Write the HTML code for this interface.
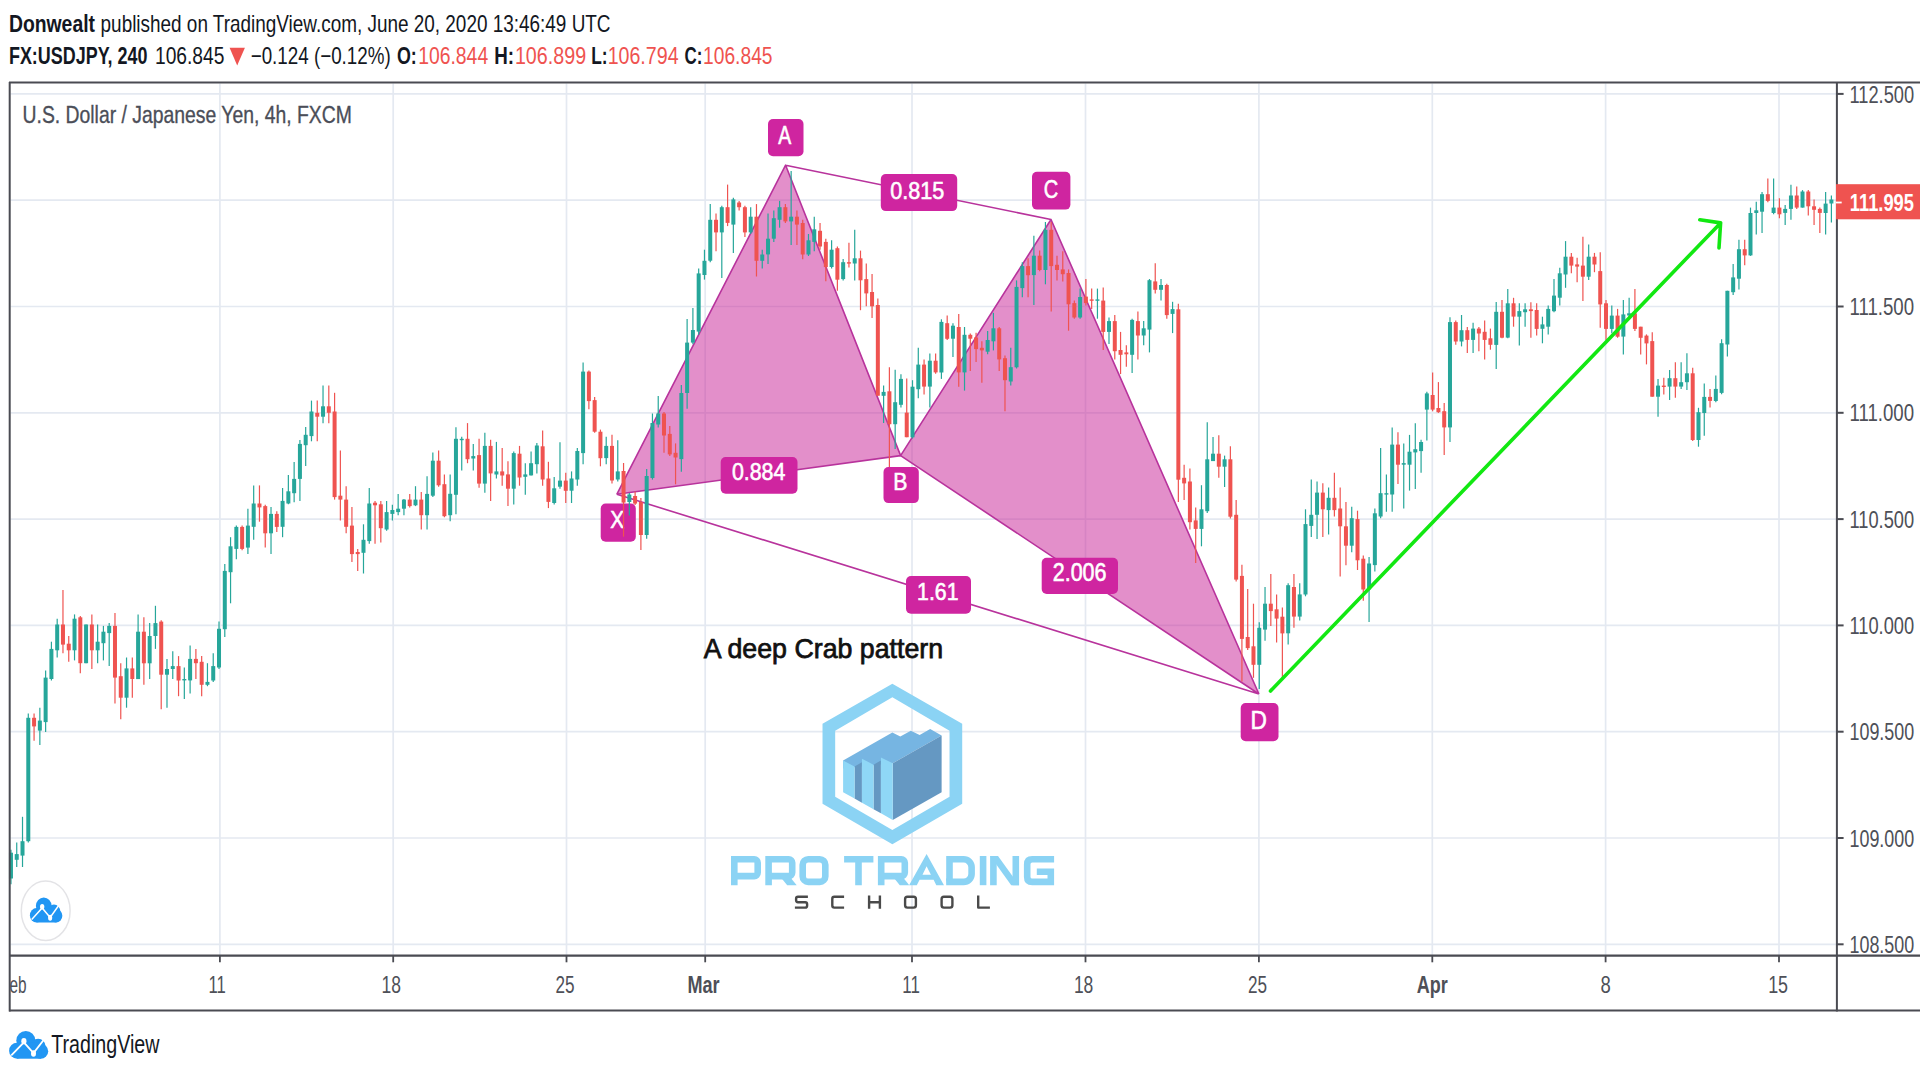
<!DOCTYPE html>
<html><head><meta charset="utf-8"><title>USDJPY chart</title>
<style>html,body{margin:0;padding:0;background:#fff;width:1920px;height:1080px;overflow:hidden}svg{display:block}</style>
</head><body>
<svg width="1920" height="1080" viewBox="0 0 1920 1080">
<rect width="1920" height="1080" fill="#ffffff"/>
<path d="M10.5 93.9H1836" stroke="#e4e9f1" stroke-width="1.7"/><path d="M10.5 200.2H1836" stroke="#e4e9f1" stroke-width="1.7"/><path d="M10.5 306.5H1836" stroke="#e4e9f1" stroke-width="1.7"/><path d="M10.5 412.8H1836" stroke="#e4e9f1" stroke-width="1.7"/><path d="M10.5 519.1H1836" stroke="#e4e9f1" stroke-width="1.7"/><path d="M10.5 625.4H1836" stroke="#e4e9f1" stroke-width="1.7"/><path d="M10.5 731.7H1836" stroke="#e4e9f1" stroke-width="1.7"/><path d="M10.5 838.0H1836" stroke="#e4e9f1" stroke-width="1.7"/><path d="M10.5 944.3H1836" stroke="#e4e9f1" stroke-width="1.7"/><path d="M219.9 83.5V955" stroke="#e4e9f1" stroke-width="1.7"/><path d="M393.2 83.5V955" stroke="#e4e9f1" stroke-width="1.7"/><path d="M566.5 83.5V955" stroke="#e4e9f1" stroke-width="1.7"/><path d="M705.2 83.5V955" stroke="#e4e9f1" stroke-width="1.7"/><path d="M912.0 83.5V955" stroke="#e4e9f1" stroke-width="1.7"/><path d="M1085.5 83.5V955" stroke="#e4e9f1" stroke-width="1.7"/><path d="M1258.9 83.5V955" stroke="#e4e9f1" stroke-width="1.7"/><path d="M1432.3 83.5V955" stroke="#e4e9f1" stroke-width="1.7"/><path d="M1605.6 83.5V955" stroke="#e4e9f1" stroke-width="1.7"/><path d="M1779.0 83.5V955" stroke="#e4e9f1" stroke-width="1.7"/>
<polygon points="616.8,494.3 785.6,165.2 900.6,455.6" fill="rgba(199,31,149,0.5)"/><polygon points="900.6,455.6 1051,219.5 1258.9,694" fill="rgba(199,31,149,0.5)"/>
<path d="M616.8,494.3L785.6,165.2L900.6,455.6L1051,219.5L1258.9,694M616.8,494.3L900.6,455.6M785.6,165.2L1051,219.5M616.8,494.3L1258.9,694M900.6,455.6L1258.9,694" stroke="#b8339c" stroke-width="1.6" fill="none" stroke-linejoin="round"/>
<rect x="768" y="119" width="35.5" height="37.2" rx="5" fill="#cf25a0"/><rect x="880.8" y="174" width="76.4" height="37.1" rx="5" fill="#cf25a0"/><rect x="1032" y="171.8" width="38.4" height="37.8" rx="5" fill="#cf25a0"/><rect x="720.7" y="457" width="76.8" height="36.8" rx="5" fill="#cf25a0"/><rect x="883.5" y="467" width="35.3" height="36.1" rx="5" fill="#cf25a0"/><rect x="600.7" y="503.6" width="35.1" height="38.2" rx="5" fill="#cf25a0"/><rect x="906" y="576" width="65.0" height="37.8" rx="5" fill="#cf25a0"/><rect x="1041.7" y="557.7" width="76.3" height="36.3" rx="5" fill="#cf25a0"/><rect x="1240.7" y="703" width="37.8" height="38.3" rx="5" fill="#cf25a0"/>
<text x="778.30" y="144.40" font-family="Liberation Sans, sans-serif" font-size="24.93" font-weight="normal" fill="#ffffff" textLength="12.94" lengthAdjust="spacingAndGlyphs" stroke="#fff" stroke-width="0.6">A</text><text x="890.14" y="199.40" font-family="Liberation Sans, sans-serif" font-size="24.57" font-weight="normal" fill="#ffffff" textLength="54.08" lengthAdjust="spacingAndGlyphs" stroke="#fff" stroke-width="0.6">0.815</text><text x="1043.80" y="197.80" font-family="Liberation Sans, sans-serif" font-size="24.86" font-weight="normal" fill="#ffffff" textLength="14.44" lengthAdjust="spacingAndGlyphs" stroke="#fff" stroke-width="0.6">C</text><text x="731.89" y="480.25" font-family="Liberation Sans, sans-serif" font-size="24.50" font-weight="normal" fill="#ffffff" textLength="53.55" lengthAdjust="spacingAndGlyphs" stroke="#fff" stroke-width="0.6">0.884</text><text x="893.30" y="490.00" font-family="Liberation Sans, sans-serif" font-size="23.55" font-weight="normal" fill="#ffffff" textLength="14.16" lengthAdjust="spacingAndGlyphs" stroke="#fff" stroke-width="0.6">B</text><text x="610.28" y="527.60" font-family="Liberation Sans, sans-serif" font-size="23.62" font-weight="normal" fill="#ffffff" textLength="13.89" lengthAdjust="spacingAndGlyphs" stroke="#fff" stroke-width="0.6">X</text><text x="917.05" y="599.70" font-family="Liberation Sans, sans-serif" font-size="24.14" font-weight="normal" fill="#ffffff" textLength="41.44" lengthAdjust="spacingAndGlyphs" stroke="#fff" stroke-width="0.6">1.61</text><text x="1052.73" y="581.00" font-family="Liberation Sans, sans-serif" font-size="25.14" font-weight="normal" fill="#ffffff" textLength="53.79" lengthAdjust="spacingAndGlyphs" stroke="#fff" stroke-width="0.6">2.006</text><text x="1250.58" y="729.00" font-family="Liberation Sans, sans-serif" font-size="25.51" font-weight="normal" fill="#ffffff" textLength="16.40" lengthAdjust="spacingAndGlyphs" stroke="#fff" stroke-width="0.6">D</text>
<path d="M10.96 849.8V884.2" stroke="#26a69a" stroke-width="1.2"/><rect x="8.96" y="852.7" width="4.0" height="25.8" fill="#26a69a"/>
<path d="M16.73 842.6V867.0" stroke="#26a69a" stroke-width="1.2"/><rect x="14.73" y="854.1" width="4.0" height="5.7" fill="#26a69a"/>
<path d="M22.51 816.8V867.0" stroke="#26a69a" stroke-width="1.2"/><rect x="20.51" y="841.2" width="4.0" height="14.4" fill="#26a69a"/>
<path d="M28.29 713.5V842.6" stroke="#26a69a" stroke-width="1.2"/><rect x="26.29" y="717.8" width="4.0" height="123.4" fill="#26a69a"/>
<path d="M34.07 713.5V740.7" stroke="#ef5350" stroke-width="1.2"/><rect x="32.07" y="717.8" width="4.0" height="8.6" fill="#ef5350"/>
<path d="M39.85 707.7V745.0" stroke="#26a69a" stroke-width="1.2"/><rect x="37.85" y="720.6" width="4.0" height="10.0" fill="#26a69a"/>
<path d="M45.63 670.4V732.1" stroke="#26a69a" stroke-width="1.2"/><rect x="43.63" y="677.6" width="4.0" height="44.5" fill="#26a69a"/>
<path d="M51.41 641.7V680.5" stroke="#26a69a" stroke-width="1.2"/><rect x="49.41" y="648.9" width="4.0" height="30.1" fill="#26a69a"/>
<path d="M57.19 618.7V657.5" stroke="#26a69a" stroke-width="1.2"/><rect x="55.19" y="624.5" width="4.0" height="25.8" fill="#26a69a"/>
<path d="M62.97 590.0V653.2" stroke="#ef5350" stroke-width="1.2"/><rect x="60.97" y="624.5" width="4.0" height="20.1" fill="#ef5350"/>
<path d="M68.75 636.0V661.8" stroke="#ef5350" stroke-width="1.2"/><rect x="66.75" y="643.7" width="4.0" height="6.6" fill="#ef5350"/>
<path d="M74.53 614.4V660.4" stroke="#26a69a" stroke-width="1.2"/><rect x="72.53" y="618.7" width="4.0" height="31.6" fill="#26a69a"/>
<path d="M80.31 615.9V673.3" stroke="#ef5350" stroke-width="1.2"/><rect x="78.31" y="617.3" width="4.0" height="45.9" fill="#ef5350"/>
<path d="M86.08 624.5V663.2" stroke="#26a69a" stroke-width="1.2"/><rect x="84.08" y="624.5" width="4.0" height="38.7" fill="#26a69a"/>
<path d="M91.86 614.4V669.0" stroke="#ef5350" stroke-width="1.2"/><rect x="89.86" y="624.5" width="4.0" height="25.8" fill="#ef5350"/>
<path d="M97.64 624.5V663.2" stroke="#26a69a" stroke-width="1.2"/><rect x="95.64" y="641.7" width="4.0" height="8.6" fill="#26a69a"/>
<path d="M103.42 625.9V660.4" stroke="#26a69a" stroke-width="1.2"/><rect x="101.42" y="631.7" width="4.0" height="11.5" fill="#26a69a"/>
<path d="M109.20 623.1V666.1" stroke="#26a69a" stroke-width="1.2"/><rect x="107.20" y="625.9" width="4.0" height="7.2" fill="#26a69a"/>
<path d="M114.98 613.0V703.4" stroke="#ef5350" stroke-width="1.2"/><rect x="112.98" y="625.9" width="4.0" height="51.7" fill="#ef5350"/>
<path d="M120.76 663.2V719.2" stroke="#ef5350" stroke-width="1.2"/><rect x="118.76" y="676.2" width="4.0" height="21.5" fill="#ef5350"/>
<path d="M126.54 657.5V707.7" stroke="#26a69a" stroke-width="1.2"/><rect x="124.54" y="668.4" width="4.0" height="29.3" fill="#26a69a"/>
<path d="M132.32 657.5V697.7" stroke="#ef5350" stroke-width="1.2"/><rect x="130.32" y="668.4" width="4.0" height="10.6" fill="#ef5350"/>
<path d="M138.10 614.4V679.0" stroke="#26a69a" stroke-width="1.2"/><rect x="136.10" y="631.7" width="4.0" height="47.4" fill="#26a69a"/>
<path d="M143.88 617.3V684.8" stroke="#ef5350" stroke-width="1.2"/><rect x="141.88" y="631.7" width="4.0" height="31.6" fill="#ef5350"/>
<path d="M149.66 623.1V679.0" stroke="#26a69a" stroke-width="1.2"/><rect x="147.66" y="636.0" width="4.0" height="27.3" fill="#26a69a"/>
<path d="M155.44 605.8V648.9" stroke="#26a69a" stroke-width="1.2"/><rect x="153.44" y="623.1" width="4.0" height="12.9" fill="#26a69a"/>
<path d="M161.21 620.2V709.2" stroke="#ef5350" stroke-width="1.2"/><rect x="159.21" y="621.6" width="4.0" height="53.1" fill="#ef5350"/>
<path d="M166.99 658.9V707.7" stroke="#26a69a" stroke-width="1.2"/><rect x="164.99" y="669.0" width="4.0" height="5.7" fill="#26a69a"/>
<path d="M172.77 651.2V679.0" stroke="#26a69a" stroke-width="1.2"/><rect x="170.77" y="666.1" width="4.0" height="2.9" fill="#26a69a"/>
<path d="M178.55 656.1V696.2" stroke="#ef5350" stroke-width="1.2"/><rect x="176.55" y="666.1" width="4.0" height="14.4" fill="#ef5350"/>
<path d="M184.33 667.5V699.1" stroke="#26a69a" stroke-width="1.2"/><rect x="182.33" y="679.0" width="4.0" height="1.4" fill="#26a69a"/>
<path d="M190.11 645.4V693.4" stroke="#26a69a" stroke-width="1.2"/><rect x="188.11" y="658.9" width="4.0" height="21.5" fill="#26a69a"/>
<path d="M195.89 648.9V679.0" stroke="#ef5350" stroke-width="1.2"/><rect x="193.89" y="658.9" width="4.0" height="4.3" fill="#ef5350"/>
<path d="M201.67 656.1V696.2" stroke="#ef5350" stroke-width="1.2"/><rect x="199.67" y="661.8" width="4.0" height="23.0" fill="#ef5350"/>
<path d="M207.45 663.2V686.2" stroke="#26a69a" stroke-width="1.2"/><rect x="205.45" y="681.9" width="4.0" height="2.9" fill="#26a69a"/>
<path d="M213.23 653.2V681.9" stroke="#26a69a" stroke-width="1.2"/><rect x="211.23" y="666.1" width="4.0" height="14.4" fill="#26a69a"/>
<path d="M219.01 621.6V669.0" stroke="#26a69a" stroke-width="1.2"/><rect x="217.01" y="628.8" width="4.0" height="38.7" fill="#26a69a"/>
<path d="M224.79 563.9V637.0" stroke="#26a69a" stroke-width="1.2"/><rect x="222.79" y="570.9" width="4.0" height="58.3" fill="#26a69a"/>
<path d="M230.56 537.2V603.3" stroke="#26a69a" stroke-width="1.2"/><rect x="228.56" y="546.3" width="4.0" height="25.9" fill="#26a69a"/>
<path d="M236.34 525.6V559.3" stroke="#26a69a" stroke-width="1.2"/><rect x="234.34" y="526.9" width="4.0" height="22.0" fill="#26a69a"/>
<path d="M242.12 525.6V550.2" stroke="#ef5350" stroke-width="1.2"/><rect x="240.12" y="526.9" width="4.0" height="22.0" fill="#ef5350"/>
<path d="M247.90 508.7V554.1" stroke="#26a69a" stroke-width="1.2"/><rect x="245.90" y="525.6" width="4.0" height="22.0" fill="#26a69a"/>
<path d="M253.68 485.4V539.8" stroke="#26a69a" stroke-width="1.2"/><rect x="251.68" y="503.5" width="4.0" height="23.3" fill="#26a69a"/>
<path d="M259.46 485.4V521.7" stroke="#ef5350" stroke-width="1.2"/><rect x="257.46" y="503.5" width="4.0" height="3.9" fill="#ef5350"/>
<path d="M265.24 504.8V547.6" stroke="#ef5350" stroke-width="1.2"/><rect x="263.24" y="506.1" width="4.0" height="27.2" fill="#ef5350"/>
<path d="M271.02 506.9V554.1" stroke="#26a69a" stroke-width="1.2"/><rect x="269.02" y="513.9" width="4.0" height="19.4" fill="#26a69a"/>
<path d="M276.80 511.3V532.0" stroke="#ef5350" stroke-width="1.2"/><rect x="274.80" y="513.9" width="4.0" height="13.0" fill="#ef5350"/>
<path d="M282.58 488.0V537.2" stroke="#26a69a" stroke-width="1.2"/><rect x="280.58" y="500.9" width="4.0" height="25.9" fill="#26a69a"/>
<path d="M288.36 475.0V504.3" stroke="#26a69a" stroke-width="1.2"/><rect x="286.36" y="491.3" width="4.0" height="12.2" fill="#26a69a"/>
<path d="M294.14 462.0V502.2" stroke="#26a69a" stroke-width="1.2"/><rect x="292.14" y="478.9" width="4.0" height="14.3" fill="#26a69a"/>
<path d="M299.92 440.0V500.9" stroke="#26a69a" stroke-width="1.2"/><rect x="297.92" y="443.9" width="4.0" height="35.0" fill="#26a69a"/>
<path d="M305.69 427.0V465.9" stroke="#26a69a" stroke-width="1.2"/><rect x="303.69" y="434.8" width="4.0" height="10.4" fill="#26a69a"/>
<path d="M311.47 400.6V441.3" stroke="#26a69a" stroke-width="1.2"/><rect x="309.47" y="411.5" width="4.0" height="24.6" fill="#26a69a"/>
<path d="M317.25 400.6V441.3" stroke="#ef5350" stroke-width="1.2"/><rect x="315.25" y="412.8" width="4.0" height="3.9" fill="#ef5350"/>
<path d="M323.03 385.6V423.2" stroke="#26a69a" stroke-width="1.2"/><rect x="321.03" y="406.3" width="4.0" height="10.4" fill="#26a69a"/>
<path d="M328.81 385.6V423.2" stroke="#ef5350" stroke-width="1.2"/><rect x="326.81" y="406.3" width="4.0" height="6.5" fill="#ef5350"/>
<path d="M334.59 392.8V499.6" stroke="#ef5350" stroke-width="1.2"/><rect x="332.59" y="411.5" width="4.0" height="85.6" fill="#ef5350"/>
<path d="M340.37 450.4V520.4" stroke="#ef5350" stroke-width="1.2"/><rect x="338.37" y="495.7" width="4.0" height="3.9" fill="#ef5350"/>
<path d="M346.15 486.2V533.3" stroke="#ef5350" stroke-width="1.2"/><rect x="344.15" y="499.6" width="4.0" height="27.2" fill="#ef5350"/>
<path d="M351.93 506.9V561.9" stroke="#ef5350" stroke-width="1.2"/><rect x="349.93" y="525.6" width="4.0" height="28.5" fill="#ef5350"/>
<path d="M357.71 548.9V570.9" stroke="#ef5350" stroke-width="1.2"/><rect x="355.71" y="552.0" width="4.0" height="2.1" fill="#ef5350"/>
<path d="M363.49 524.3V573.5" stroke="#26a69a" stroke-width="1.2"/><rect x="361.49" y="539.8" width="4.0" height="13.0" fill="#26a69a"/>
<path d="M369.27 488.0V543.7" stroke="#26a69a" stroke-width="1.2"/><rect x="367.27" y="503.5" width="4.0" height="37.6" fill="#26a69a"/>
<path d="M375.04 500.9V543.7" stroke="#ef5350" stroke-width="1.2"/><rect x="373.04" y="502.7" width="4.0" height="2.6" fill="#ef5350"/>
<path d="M380.82 500.9V542.4" stroke="#ef5350" stroke-width="1.2"/><rect x="378.82" y="504.3" width="4.0" height="23.9" fill="#ef5350"/>
<path d="M386.60 500.9V530.7" stroke="#26a69a" stroke-width="1.2"/><rect x="384.60" y="512.1" width="4.0" height="17.4" fill="#26a69a"/>
<path d="M392.38 504.8V520.4" stroke="#26a69a" stroke-width="1.2"/><rect x="390.38" y="510.0" width="4.0" height="3.9" fill="#26a69a"/>
<path d="M398.16 493.9V515.2" stroke="#26a69a" stroke-width="1.2"/><rect x="396.16" y="508.7" width="4.0" height="3.4" fill="#26a69a"/>
<path d="M403.94 499.1V515.2" stroke="#26a69a" stroke-width="1.2"/><rect x="401.94" y="499.6" width="4.0" height="9.1" fill="#26a69a"/>
<path d="M409.72 493.9V507.4" stroke="#ef5350" stroke-width="1.2"/><rect x="407.72" y="499.6" width="4.0" height="6.5" fill="#ef5350"/>
<path d="M415.50 486.2V506.1" stroke="#26a69a" stroke-width="1.2"/><rect x="413.50" y="499.6" width="4.0" height="5.7" fill="#26a69a"/>
<path d="M421.28 491.9V529.5" stroke="#ef5350" stroke-width="1.2"/><rect x="419.28" y="499.6" width="4.0" height="15.6" fill="#ef5350"/>
<path d="M427.06 476.3V529.5" stroke="#26a69a" stroke-width="1.2"/><rect x="425.06" y="493.9" width="4.0" height="21.3" fill="#26a69a"/>
<path d="M432.84 452.4V497.0" stroke="#26a69a" stroke-width="1.2"/><rect x="430.84" y="460.7" width="4.0" height="35.0" fill="#26a69a"/>
<path d="M438.62 450.4V486.7" stroke="#ef5350" stroke-width="1.2"/><rect x="436.62" y="460.7" width="4.0" height="24.6" fill="#ef5350"/>
<path d="M444.39 474.4V517.2" stroke="#ef5350" stroke-width="1.2"/><rect x="442.39" y="484.2" width="4.0" height="32.0" fill="#ef5350"/>
<path d="M450.17 474.4V521.3" stroke="#26a69a" stroke-width="1.2"/><rect x="448.17" y="493.8" width="4.0" height="21.4" fill="#26a69a"/>
<path d="M455.95 427.2V514.2" stroke="#26a69a" stroke-width="1.2"/><rect x="453.95" y="438.8" width="4.0" height="56.0" fill="#26a69a"/>
<path d="M461.73 436.8V470.4" stroke="#26a69a" stroke-width="1.2"/><rect x="459.73" y="438.8" width="4.0" height="1.4" fill="#26a69a"/>
<path d="M467.51 423.1V463.2" stroke="#ef5350" stroke-width="1.2"/><rect x="465.51" y="438.8" width="4.0" height="20.4" fill="#ef5350"/>
<path d="M473.29 443.9V470.4" stroke="#26a69a" stroke-width="1.2"/><rect x="471.29" y="456.1" width="4.0" height="2.4" fill="#26a69a"/>
<path d="M479.07 438.8V487.7" stroke="#ef5350" stroke-width="1.2"/><rect x="477.07" y="455.1" width="4.0" height="28.5" fill="#ef5350"/>
<path d="M484.85 432.7V492.8" stroke="#26a69a" stroke-width="1.2"/><rect x="482.85" y="445.9" width="4.0" height="37.7" fill="#26a69a"/>
<path d="M490.63 439.8V500.9" stroke="#ef5350" stroke-width="1.2"/><rect x="488.63" y="445.9" width="4.0" height="27.5" fill="#ef5350"/>
<path d="M496.41 441.9V478.5" stroke="#26a69a" stroke-width="1.2"/><rect x="494.41" y="471.4" width="4.0" height="3.1" fill="#26a69a"/>
<path d="M502.19 448.0V485.7" stroke="#ef5350" stroke-width="1.2"/><rect x="500.19" y="471.4" width="4.0" height="4.1" fill="#ef5350"/>
<path d="M507.97 461.2V506.0" stroke="#ef5350" stroke-width="1.2"/><rect x="505.97" y="474.4" width="4.0" height="14.3" fill="#ef5350"/>
<path d="M513.75 451.6V504.6" stroke="#26a69a" stroke-width="1.2"/><rect x="511.75" y="453.1" width="4.0" height="35.6" fill="#26a69a"/>
<path d="M519.52 445.9V485.7" stroke="#ef5350" stroke-width="1.2"/><rect x="517.52" y="453.7" width="4.0" height="23.8" fill="#ef5350"/>
<path d="M525.30 463.2V494.8" stroke="#26a69a" stroke-width="1.2"/><rect x="523.30" y="474.4" width="4.0" height="2.4" fill="#26a69a"/>
<path d="M531.08 451.6V475.5" stroke="#26a69a" stroke-width="1.2"/><rect x="529.08" y="463.2" width="4.0" height="12.2" fill="#26a69a"/>
<path d="M536.86 442.9V473.4" stroke="#26a69a" stroke-width="1.2"/><rect x="534.86" y="445.5" width="4.0" height="18.7" fill="#26a69a"/>
<path d="M542.64 430.6V485.7" stroke="#ef5350" stroke-width="1.2"/><rect x="540.64" y="446.3" width="4.0" height="33.2" fill="#ef5350"/>
<path d="M548.42 461.8V508.1" stroke="#ef5350" stroke-width="1.2"/><rect x="546.42" y="478.5" width="4.0" height="23.4" fill="#ef5350"/>
<path d="M554.20 476.9V504.6" stroke="#26a69a" stroke-width="1.2"/><rect x="552.20" y="488.3" width="4.0" height="14.7" fill="#26a69a"/>
<path d="M559.98 442.3V488.7" stroke="#26a69a" stroke-width="1.2"/><rect x="557.98" y="480.6" width="4.0" height="6.1" fill="#26a69a"/>
<path d="M565.76 472.8V503.0" stroke="#ef5350" stroke-width="1.2"/><rect x="563.76" y="480.6" width="4.0" height="10.2" fill="#ef5350"/>
<path d="M571.54 471.4V503.0" stroke="#26a69a" stroke-width="1.2"/><rect x="569.54" y="478.5" width="4.0" height="12.2" fill="#26a69a"/>
<path d="M577.32 448.0V485.7" stroke="#26a69a" stroke-width="1.2"/><rect x="575.32" y="451.0" width="4.0" height="28.5" fill="#26a69a"/>
<path d="M583.10 362.4V464.3" stroke="#26a69a" stroke-width="1.2"/><rect x="581.10" y="371.6" width="4.0" height="81.5" fill="#26a69a"/>
<path d="M588.88 370.6V409.3" stroke="#ef5350" stroke-width="1.2"/><rect x="586.88" y="371.6" width="4.0" height="29.5" fill="#ef5350"/>
<path d="M594.65 397.0V432.7" stroke="#ef5350" stroke-width="1.2"/><rect x="592.65" y="400.1" width="4.0" height="31.6" fill="#ef5350"/>
<path d="M600.43 429.6V466.3" stroke="#ef5350" stroke-width="1.2"/><rect x="598.43" y="431.7" width="4.0" height="26.5" fill="#ef5350"/>
<path d="M606.21 436.8V464.3" stroke="#26a69a" stroke-width="1.2"/><rect x="604.21" y="445.9" width="4.0" height="12.2" fill="#26a69a"/>
<path d="M611.99 434.7V483.6" stroke="#ef5350" stroke-width="1.2"/><rect x="609.99" y="445.9" width="4.0" height="34.6" fill="#ef5350"/>
<path d="M617.77 440.2V481.6" stroke="#26a69a" stroke-width="1.2"/><rect x="615.77" y="471.4" width="4.0" height="8.1" fill="#26a69a"/>
<path d="M623.55 463.0V536.7" stroke="#ef5350" stroke-width="1.2"/><rect x="621.55" y="471.0" width="4.0" height="31.6" fill="#ef5350"/>
<path d="M629.33 493.0V515.4" stroke="#26a69a" stroke-width="1.2"/><rect x="627.33" y="494.5" width="4.0" height="7.5" fill="#26a69a"/>
<path d="M635.11 491.4V505.0" stroke="#ef5350" stroke-width="1.2"/><rect x="633.11" y="496.0" width="4.0" height="7.6" fill="#ef5350"/>
<path d="M640.89 498.0V550.0" stroke="#ef5350" stroke-width="1.2"/><rect x="638.89" y="502.0" width="4.0" height="33.0" fill="#ef5350"/>
<path d="M646.67 469.0V538.8" stroke="#26a69a" stroke-width="1.2"/><rect x="644.67" y="476.0" width="4.0" height="59.0" fill="#26a69a"/>
<path d="M652.45 413.5V479.6" stroke="#26a69a" stroke-width="1.2"/><rect x="650.45" y="423.0" width="4.0" height="55.0" fill="#26a69a"/>
<path d="M658.23 396.1V427.6" stroke="#26a69a" stroke-width="1.2"/><rect x="656.23" y="413.5" width="4.0" height="11.0" fill="#26a69a"/>
<path d="M664.00 411.9V452.8" stroke="#ef5350" stroke-width="1.2"/><rect x="662.00" y="413.5" width="4.0" height="22.0" fill="#ef5350"/>
<path d="M669.78 426.1V456.0" stroke="#ef5350" stroke-width="1.2"/><rect x="667.78" y="433.9" width="4.0" height="20.5" fill="#ef5350"/>
<path d="M675.56 443.4V484.3" stroke="#ef5350" stroke-width="1.2"/><rect x="673.56" y="452.8" width="4.0" height="4.7" fill="#ef5350"/>
<path d="M681.34 385.1V471.7" stroke="#26a69a" stroke-width="1.2"/><rect x="679.34" y="393.0" width="4.0" height="66.1" fill="#26a69a"/>
<path d="M687.12 319.0V408.7" stroke="#26a69a" stroke-width="1.2"/><rect x="685.12" y="342.6" width="4.0" height="50.4" fill="#26a69a"/>
<path d="M692.90 308.0V344.2" stroke="#26a69a" stroke-width="1.2"/><rect x="690.90" y="330.0" width="4.0" height="12.6" fill="#26a69a"/>
<path d="M698.68 268.6V334.7" stroke="#26a69a" stroke-width="1.2"/><rect x="696.68" y="273.4" width="4.0" height="58.2" fill="#26a69a"/>
<path d="M704.46 249.7V279.6" stroke="#26a69a" stroke-width="1.2"/><rect x="702.46" y="260.8" width="4.0" height="14.2" fill="#26a69a"/>
<path d="M710.24 204.1V262.3" stroke="#26a69a" stroke-width="1.2"/><rect x="708.24" y="219.8" width="4.0" height="40.9" fill="#26a69a"/>
<path d="M716.02 213.5V251.3" stroke="#ef5350" stroke-width="1.2"/><rect x="714.02" y="219.8" width="4.0" height="12.6" fill="#ef5350"/>
<path d="M721.80 205.7V278.1" stroke="#26a69a" stroke-width="1.2"/><rect x="719.80" y="207.2" width="4.0" height="25.2" fill="#26a69a"/>
<path d="M727.58 184.6V226.1" stroke="#ef5350" stroke-width="1.2"/><rect x="725.58" y="207.2" width="4.0" height="15.7" fill="#ef5350"/>
<path d="M733.36 197.8V252.9" stroke="#26a69a" stroke-width="1.2"/><rect x="731.36" y="199.4" width="4.0" height="25.2" fill="#26a69a"/>
<path d="M739.13 200.9V210.4" stroke="#ef5350" stroke-width="1.2"/><rect x="737.13" y="202.5" width="4.0" height="4.7" fill="#ef5350"/>
<path d="M744.91 205.7V237.1" stroke="#ef5350" stroke-width="1.2"/><rect x="742.91" y="207.2" width="4.0" height="25.2" fill="#ef5350"/>
<path d="M750.69 207.2V234.0" stroke="#26a69a" stroke-width="1.2"/><rect x="748.69" y="216.7" width="4.0" height="15.7" fill="#26a69a"/>
<path d="M756.47 204.1V276.5" stroke="#ef5350" stroke-width="1.2"/><rect x="754.47" y="216.7" width="4.0" height="44.1" fill="#ef5350"/>
<path d="M762.25 249.7V268.6" stroke="#26a69a" stroke-width="1.2"/><rect x="760.25" y="254.5" width="4.0" height="6.3" fill="#26a69a"/>
<path d="M768.03 213.5V263.9" stroke="#26a69a" stroke-width="1.2"/><rect x="766.03" y="238.7" width="4.0" height="15.7" fill="#26a69a"/>
<path d="M773.81 210.4V241.9" stroke="#26a69a" stroke-width="1.2"/><rect x="771.81" y="218.2" width="4.0" height="20.5" fill="#26a69a"/>
<path d="M779.59 200.9V227.7" stroke="#26a69a" stroke-width="1.2"/><rect x="777.59" y="207.2" width="4.0" height="12.6" fill="#26a69a"/>
<path d="M785.37 204.1V223.0" stroke="#ef5350" stroke-width="1.2"/><rect x="783.37" y="207.2" width="4.0" height="14.2" fill="#ef5350"/>
<path d="M791.15 171.0V245.0" stroke="#26a69a" stroke-width="1.2"/><rect x="789.15" y="216.7" width="4.0" height="4.7" fill="#26a69a"/>
<path d="M796.93 210.4V245.0" stroke="#ef5350" stroke-width="1.2"/><rect x="794.93" y="216.7" width="4.0" height="7.9" fill="#ef5350"/>
<path d="M802.71 219.8V259.2" stroke="#ef5350" stroke-width="1.2"/><rect x="800.71" y="223.0" width="4.0" height="31.5" fill="#ef5350"/>
<path d="M808.48 234.0V256.0" stroke="#26a69a" stroke-width="1.2"/><rect x="806.48" y="240.3" width="4.0" height="14.2" fill="#26a69a"/>
<path d="M814.26 216.7V251.3" stroke="#26a69a" stroke-width="1.2"/><rect x="812.26" y="229.3" width="4.0" height="12.6" fill="#26a69a"/>
<path d="M820.04 223.0V249.7" stroke="#ef5350" stroke-width="1.2"/><rect x="818.04" y="230.8" width="4.0" height="15.7" fill="#ef5350"/>
<path d="M825.82 238.7V281.2" stroke="#ef5350" stroke-width="1.2"/><rect x="823.82" y="241.9" width="4.0" height="25.2" fill="#ef5350"/>
<path d="M831.60 240.3V268.6" stroke="#26a69a" stroke-width="1.2"/><rect x="829.60" y="249.7" width="4.0" height="17.3" fill="#26a69a"/>
<path d="M837.38 246.6V290.7" stroke="#ef5350" stroke-width="1.2"/><rect x="835.38" y="248.2" width="4.0" height="31.5" fill="#ef5350"/>
<path d="M843.16 259.1V280.4" stroke="#26a69a" stroke-width="1.2"/><rect x="841.16" y="262.2" width="4.0" height="16.9" fill="#26a69a"/>
<path d="M848.94 242.8V267.4" stroke="#ef5350" stroke-width="1.2"/><rect x="846.94" y="262.2" width="4.0" height="1.4" fill="#ef5350"/>
<path d="M854.72 229.8V280.4" stroke="#26a69a" stroke-width="1.2"/><rect x="852.72" y="258.3" width="4.0" height="5.2" fill="#26a69a"/>
<path d="M860.50 250.6V310.2" stroke="#ef5350" stroke-width="1.2"/><rect x="858.50" y="258.3" width="4.0" height="22.0" fill="#ef5350"/>
<path d="M866.28 263.5V306.3" stroke="#ef5350" stroke-width="1.2"/><rect x="864.28" y="279.1" width="4.0" height="14.3" fill="#ef5350"/>
<path d="M872.06 273.9V318.0" stroke="#ef5350" stroke-width="1.2"/><rect x="870.06" y="292.0" width="4.0" height="14.3" fill="#ef5350"/>
<path d="M877.84 298.5V395.7" stroke="#ef5350" stroke-width="1.2"/><rect x="875.84" y="305.0" width="4.0" height="90.7" fill="#ef5350"/>
<path d="M883.61 385.4V423.0" stroke="#26a69a" stroke-width="1.2"/><rect x="881.61" y="391.9" width="4.0" height="3.9" fill="#26a69a"/>
<path d="M889.39 367.2V467.0" stroke="#ef5350" stroke-width="1.2"/><rect x="887.39" y="391.3" width="4.0" height="32.9" fill="#ef5350"/>
<path d="M895.17 369.8V448.9" stroke="#26a69a" stroke-width="1.2"/><rect x="893.17" y="402.2" width="4.0" height="22.0" fill="#26a69a"/>
<path d="M900.95 374.2V407.4" stroke="#26a69a" stroke-width="1.2"/><rect x="898.95" y="378.9" width="4.0" height="25.9" fill="#26a69a"/>
<path d="M906.73 378.4V437.2" stroke="#ef5350" stroke-width="1.2"/><rect x="904.73" y="412.6" width="4.0" height="24.6" fill="#ef5350"/>
<path d="M912.51 380.2V438.5" stroke="#26a69a" stroke-width="1.2"/><rect x="910.51" y="386.7" width="4.0" height="50.6" fill="#26a69a"/>
<path d="M918.29 347.8V398.3" stroke="#26a69a" stroke-width="1.2"/><rect x="916.29" y="364.6" width="4.0" height="24.6" fill="#26a69a"/>
<path d="M924.07 359.5V394.5" stroke="#ef5350" stroke-width="1.2"/><rect x="922.07" y="364.6" width="4.0" height="22.0" fill="#ef5350"/>
<path d="M929.85 353.5V407.4" stroke="#26a69a" stroke-width="1.2"/><rect x="927.85" y="360.7" width="4.0" height="25.9" fill="#26a69a"/>
<path d="M935.63 353.5V373.7" stroke="#ef5350" stroke-width="1.2"/><rect x="933.63" y="360.7" width="4.0" height="11.7" fill="#ef5350"/>
<path d="M941.41 319.3V378.9" stroke="#26a69a" stroke-width="1.2"/><rect x="939.41" y="321.9" width="4.0" height="50.6" fill="#26a69a"/>
<path d="M947.19 315.4V340.0" stroke="#ef5350" stroke-width="1.2"/><rect x="945.19" y="323.2" width="4.0" height="15.6" fill="#ef5350"/>
<path d="M952.96 323.2V356.9" stroke="#26a69a" stroke-width="1.2"/><rect x="950.96" y="325.7" width="4.0" height="13.0" fill="#26a69a"/>
<path d="M958.74 314.1V386.7" stroke="#ef5350" stroke-width="1.2"/><rect x="956.74" y="327.0" width="4.0" height="45.4" fill="#ef5350"/>
<path d="M964.52 327.0V390.6" stroke="#26a69a" stroke-width="1.2"/><rect x="962.52" y="334.8" width="4.0" height="37.6" fill="#26a69a"/>
<path d="M970.30 333.5V371.1" stroke="#ef5350" stroke-width="1.2"/><rect x="968.30" y="334.8" width="4.0" height="3.9" fill="#ef5350"/>
<path d="M976.08 332.7V362.0" stroke="#ef5350" stroke-width="1.2"/><rect x="974.08" y="337.4" width="4.0" height="11.7" fill="#ef5350"/>
<path d="M981.86 341.3V382.8" stroke="#ef5350" stroke-width="1.2"/><rect x="979.86" y="347.8" width="4.0" height="2.6" fill="#ef5350"/>
<path d="M987.64 330.9V354.3" stroke="#26a69a" stroke-width="1.2"/><rect x="985.64" y="340.0" width="4.0" height="11.7" fill="#26a69a"/>
<path d="M993.42 312.8V350.4" stroke="#26a69a" stroke-width="1.2"/><rect x="991.42" y="328.3" width="4.0" height="13.0" fill="#26a69a"/>
<path d="M999.20 327.0V371.1" stroke="#ef5350" stroke-width="1.2"/><rect x="997.20" y="328.3" width="4.0" height="31.1" fill="#ef5350"/>
<path d="M1004.98 355.6V411.3" stroke="#ef5350" stroke-width="1.2"/><rect x="1002.98" y="358.2" width="4.0" height="22.0" fill="#ef5350"/>
<path d="M1010.76 347.8V385.4" stroke="#26a69a" stroke-width="1.2"/><rect x="1008.76" y="367.2" width="4.0" height="14.3" fill="#26a69a"/>
<path d="M1016.54 280.4V368.5" stroke="#26a69a" stroke-width="1.2"/><rect x="1014.54" y="286.9" width="4.0" height="80.4" fill="#26a69a"/>
<path d="M1022.32 262.2V297.2" stroke="#26a69a" stroke-width="1.2"/><rect x="1020.32" y="266.1" width="4.0" height="22.0" fill="#26a69a"/>
<path d="M1028.09 258.3V297.2" stroke="#ef5350" stroke-width="1.2"/><rect x="1026.09" y="266.1" width="4.0" height="9.1" fill="#ef5350"/>
<path d="M1033.87 235.8V305.0" stroke="#26a69a" stroke-width="1.2"/><rect x="1031.87" y="255.7" width="4.0" height="19.4" fill="#26a69a"/>
<path d="M1039.65 250.6V271.3" stroke="#ef5350" stroke-width="1.2"/><rect x="1037.65" y="255.7" width="4.0" height="14.3" fill="#ef5350"/>
<path d="M1045.43 222.0V284.3" stroke="#26a69a" stroke-width="1.2"/><rect x="1043.43" y="229.8" width="4.0" height="40.2" fill="#26a69a"/>
<path d="M1051.21 222.0V311.5" stroke="#ef5350" stroke-width="1.2"/><rect x="1049.21" y="229.8" width="4.0" height="36.3" fill="#ef5350"/>
<path d="M1056.99 255.7V280.4" stroke="#ef5350" stroke-width="1.2"/><rect x="1054.99" y="264.8" width="4.0" height="5.2" fill="#ef5350"/>
<path d="M1062.77 251.3V281.4" stroke="#ef5350" stroke-width="1.2"/><rect x="1060.77" y="269.4" width="4.0" height="4.8" fill="#ef5350"/>
<path d="M1068.55 269.4V330.7" stroke="#ef5350" stroke-width="1.2"/><rect x="1066.55" y="273.0" width="4.0" height="31.3" fill="#ef5350"/>
<path d="M1074.33 300.6V318.7" stroke="#ef5350" stroke-width="1.2"/><rect x="1072.33" y="303.1" width="4.0" height="14.4" fill="#ef5350"/>
<path d="M1080.11 288.6V318.7" stroke="#26a69a" stroke-width="1.2"/><rect x="1078.11" y="297.0" width="4.0" height="20.5" fill="#26a69a"/>
<path d="M1085.89 279.0V305.5" stroke="#ef5350" stroke-width="1.2"/><rect x="1083.89" y="296.6" width="4.0" height="6.5" fill="#ef5350"/>
<path d="M1091.67 288.6V309.1" stroke="#ef5350" stroke-width="1.2"/><rect x="1089.67" y="299.4" width="4.0" height="1.4" fill="#ef5350"/>
<path d="M1097.44 288.6V318.7" stroke="#26a69a" stroke-width="1.2"/><rect x="1095.44" y="299.4" width="4.0" height="1.4" fill="#26a69a"/>
<path d="M1103.22 287.4V350.0" stroke="#ef5350" stroke-width="1.2"/><rect x="1101.22" y="300.6" width="4.0" height="31.3" fill="#ef5350"/>
<path d="M1109.00 317.5V344.0" stroke="#26a69a" stroke-width="1.2"/><rect x="1107.00" y="321.1" width="4.0" height="10.8" fill="#26a69a"/>
<path d="M1114.78 315.1V359.6" stroke="#ef5350" stroke-width="1.2"/><rect x="1112.78" y="321.1" width="4.0" height="30.1" fill="#ef5350"/>
<path d="M1120.56 331.9V374.1" stroke="#ef5350" stroke-width="1.2"/><rect x="1118.56" y="350.0" width="4.0" height="4.8" fill="#ef5350"/>
<path d="M1126.34 345.2V366.8" stroke="#ef5350" stroke-width="1.2"/><rect x="1124.34" y="352.4" width="4.0" height="1.9" fill="#ef5350"/>
<path d="M1132.12 318.7V372.9" stroke="#26a69a" stroke-width="1.2"/><rect x="1130.12" y="319.9" width="4.0" height="34.9" fill="#26a69a"/>
<path d="M1137.90 311.5V359.6" stroke="#ef5350" stroke-width="1.2"/><rect x="1135.90" y="321.1" width="4.0" height="14.4" fill="#ef5350"/>
<path d="M1143.68 321.1V345.2" stroke="#26a69a" stroke-width="1.2"/><rect x="1141.68" y="328.3" width="4.0" height="7.2" fill="#26a69a"/>
<path d="M1149.46 279.0V352.4" stroke="#26a69a" stroke-width="1.2"/><rect x="1147.46" y="280.2" width="4.0" height="49.4" fill="#26a69a"/>
<path d="M1155.24 263.3V293.4" stroke="#ef5350" stroke-width="1.2"/><rect x="1153.24" y="281.4" width="4.0" height="8.4" fill="#ef5350"/>
<path d="M1161.02 279.0V300.6" stroke="#26a69a" stroke-width="1.2"/><rect x="1159.02" y="285.0" width="4.0" height="4.8" fill="#26a69a"/>
<path d="M1166.80 283.8V318.7" stroke="#ef5350" stroke-width="1.2"/><rect x="1164.80" y="285.0" width="4.0" height="30.1" fill="#ef5350"/>
<path d="M1172.57 301.8V333.1" stroke="#26a69a" stroke-width="1.2"/><rect x="1170.57" y="309.1" width="4.0" height="4.8" fill="#26a69a"/>
<path d="M1178.35 303.7V501.9" stroke="#ef5350" stroke-width="1.2"/><rect x="1176.35" y="309.3" width="4.0" height="170.4" fill="#ef5350"/>
<path d="M1184.13 464.8V500.0" stroke="#ef5350" stroke-width="1.2"/><rect x="1182.13" y="477.8" width="4.0" height="5.6" fill="#ef5350"/>
<path d="M1189.91 468.5V529.6" stroke="#ef5350" stroke-width="1.2"/><rect x="1187.91" y="481.5" width="4.0" height="40.7" fill="#ef5350"/>
<path d="M1195.69 507.4V563.0" stroke="#ef5350" stroke-width="1.2"/><rect x="1193.69" y="520.4" width="4.0" height="8.5" fill="#ef5350"/>
<path d="M1201.47 485.2V546.3" stroke="#26a69a" stroke-width="1.2"/><rect x="1199.47" y="509.3" width="4.0" height="19.6" fill="#26a69a"/>
<path d="M1207.25 422.2V513.0" stroke="#26a69a" stroke-width="1.2"/><rect x="1205.25" y="459.3" width="4.0" height="51.9" fill="#26a69a"/>
<path d="M1213.03 437.0V461.1" stroke="#26a69a" stroke-width="1.2"/><rect x="1211.03" y="453.7" width="4.0" height="7.4" fill="#26a69a"/>
<path d="M1218.81 435.2V477.8" stroke="#ef5350" stroke-width="1.2"/><rect x="1216.81" y="453.7" width="4.0" height="13.0" fill="#ef5350"/>
<path d="M1224.59 455.6V487.0" stroke="#26a69a" stroke-width="1.2"/><rect x="1222.59" y="459.3" width="4.0" height="7.4" fill="#26a69a"/>
<path d="M1230.37 446.3V518.5" stroke="#ef5350" stroke-width="1.2"/><rect x="1228.37" y="459.3" width="4.0" height="57.4" fill="#ef5350"/>
<path d="M1236.15 500.0V581.5" stroke="#ef5350" stroke-width="1.2"/><rect x="1234.15" y="514.8" width="4.0" height="64.8" fill="#ef5350"/>
<path d="M1241.92 564.8V681.5" stroke="#ef5350" stroke-width="1.2"/><rect x="1239.92" y="575.9" width="4.0" height="63.0" fill="#ef5350"/>
<path d="M1247.70 588.9V650.0" stroke="#ef5350" stroke-width="1.2"/><rect x="1245.70" y="637.0" width="4.0" height="11.1" fill="#ef5350"/>
<path d="M1253.48 603.7V677.8" stroke="#ef5350" stroke-width="1.2"/><rect x="1251.48" y="646.3" width="4.0" height="18.5" fill="#ef5350"/>
<path d="M1259.26 622.2V688.9" stroke="#26a69a" stroke-width="1.2"/><rect x="1257.26" y="627.8" width="4.0" height="37.0" fill="#26a69a"/>
<path d="M1265.04 587.0V640.7" stroke="#26a69a" stroke-width="1.2"/><rect x="1263.04" y="603.7" width="4.0" height="25.9" fill="#26a69a"/>
<path d="M1270.82 574.1V625.9" stroke="#ef5350" stroke-width="1.2"/><rect x="1268.82" y="603.7" width="4.0" height="7.4" fill="#ef5350"/>
<path d="M1276.60 594.4V642.6" stroke="#ef5350" stroke-width="1.2"/><rect x="1274.60" y="609.3" width="4.0" height="9.3" fill="#ef5350"/>
<path d="M1282.38 607.4V677.8" stroke="#ef5350" stroke-width="1.2"/><rect x="1280.38" y="616.7" width="4.0" height="16.7" fill="#ef5350"/>
<path d="M1288.16 583.3V644.4" stroke="#26a69a" stroke-width="1.2"/><rect x="1286.16" y="585.2" width="4.0" height="48.1" fill="#26a69a"/>
<path d="M1293.94 574.1V627.8" stroke="#ef5350" stroke-width="1.2"/><rect x="1291.94" y="587.0" width="4.0" height="29.6" fill="#ef5350"/>
<path d="M1299.72 583.3V620.4" stroke="#26a69a" stroke-width="1.2"/><rect x="1297.72" y="594.4" width="4.0" height="22.2" fill="#26a69a"/>
<path d="M1305.50 509.3V596.3" stroke="#26a69a" stroke-width="1.2"/><rect x="1303.50" y="524.1" width="4.0" height="70.4" fill="#26a69a"/>
<path d="M1311.28 479.6V537.0" stroke="#26a69a" stroke-width="1.2"/><rect x="1309.28" y="514.8" width="4.0" height="11.1" fill="#26a69a"/>
<path d="M1317.05 481.5V538.9" stroke="#26a69a" stroke-width="1.2"/><rect x="1315.05" y="492.6" width="4.0" height="22.2" fill="#26a69a"/>
<path d="M1322.83 483.3V537.0" stroke="#ef5350" stroke-width="1.2"/><rect x="1320.83" y="492.6" width="4.0" height="16.7" fill="#ef5350"/>
<path d="M1328.61 487.4V534.4" stroke="#26a69a" stroke-width="1.2"/><rect x="1326.61" y="497.8" width="4.0" height="12.3" fill="#26a69a"/>
<path d="M1334.39 472.8V516.6" stroke="#ef5350" stroke-width="1.2"/><rect x="1332.39" y="497.8" width="4.0" height="12.3" fill="#ef5350"/>
<path d="M1340.17 487.4V576.5" stroke="#ef5350" stroke-width="1.2"/><rect x="1338.17" y="508.5" width="4.0" height="17.8" fill="#ef5350"/>
<path d="M1345.95 502.0V565.2" stroke="#ef5350" stroke-width="1.2"/><rect x="1343.95" y="526.3" width="4.0" height="19.4" fill="#ef5350"/>
<path d="M1351.73 506.8V552.2" stroke="#26a69a" stroke-width="1.2"/><rect x="1349.73" y="518.2" width="4.0" height="27.5" fill="#26a69a"/>
<path d="M1357.51 510.7V570.0" stroke="#ef5350" stroke-width="1.2"/><rect x="1355.51" y="519.1" width="4.0" height="41.2" fill="#ef5350"/>
<path d="M1363.29 555.4V600.8" stroke="#ef5350" stroke-width="1.2"/><rect x="1361.29" y="558.7" width="4.0" height="30.8" fill="#ef5350"/>
<path d="M1369.07 557.1V621.9" stroke="#26a69a" stroke-width="1.2"/><rect x="1367.07" y="563.5" width="4.0" height="25.9" fill="#26a69a"/>
<path d="M1374.85 508.5V571.6" stroke="#26a69a" stroke-width="1.2"/><rect x="1372.85" y="513.3" width="4.0" height="51.8" fill="#26a69a"/>
<path d="M1380.63 447.9V518.2" stroke="#26a69a" stroke-width="1.2"/><rect x="1378.63" y="493.2" width="4.0" height="23.3" fill="#26a69a"/>
<path d="M1386.40 474.4V511.7" stroke="#26a69a" stroke-width="1.2"/><rect x="1384.40" y="493.2" width="4.0" height="1.4" fill="#26a69a"/>
<path d="M1392.18 427.4V511.7" stroke="#26a69a" stroke-width="1.2"/><rect x="1390.18" y="444.6" width="4.0" height="49.9" fill="#26a69a"/>
<path d="M1397.96 432.3V484.1" stroke="#ef5350" stroke-width="1.2"/><rect x="1395.96" y="444.6" width="4.0" height="20.1" fill="#ef5350"/>
<path d="M1403.74 443.6V508.5" stroke="#26a69a" stroke-width="1.2"/><rect x="1401.74" y="463.1" width="4.0" height="1.6" fill="#26a69a"/>
<path d="M1409.52 434.9V490.6" stroke="#26a69a" stroke-width="1.2"/><rect x="1407.52" y="451.7" width="4.0" height="13.0" fill="#26a69a"/>
<path d="M1415.30 423.2V489.0" stroke="#26a69a" stroke-width="1.2"/><rect x="1413.30" y="449.2" width="4.0" height="3.2" fill="#26a69a"/>
<path d="M1421.08 439.8V472.8" stroke="#26a69a" stroke-width="1.2"/><rect x="1419.08" y="442.0" width="4.0" height="9.1" fill="#26a69a"/>
<path d="M1426.86 391.8V440.4" stroke="#26a69a" stroke-width="1.2"/><rect x="1424.86" y="393.4" width="4.0" height="16.2" fill="#26a69a"/>
<path d="M1432.64 372.4V411.2" stroke="#ef5350" stroke-width="1.2"/><rect x="1430.64" y="395.0" width="4.0" height="14.6" fill="#ef5350"/>
<path d="M1438.42 382.1V412.9" stroke="#ef5350" stroke-width="1.2"/><rect x="1436.42" y="408.0" width="4.0" height="4.2" fill="#ef5350"/>
<path d="M1444.20 403.1V455.0" stroke="#ef5350" stroke-width="1.2"/><rect x="1442.20" y="411.2" width="4.0" height="16.2" fill="#ef5350"/>
<path d="M1449.98 317.3V442.0" stroke="#26a69a" stroke-width="1.2"/><rect x="1447.98" y="322.1" width="4.0" height="105.3" fill="#26a69a"/>
<path d="M1455.76 320.5V344.8" stroke="#ef5350" stroke-width="1.2"/><rect x="1453.76" y="322.1" width="4.0" height="19.4" fill="#ef5350"/>
<path d="M1461.53 315.0V346.4" stroke="#26a69a" stroke-width="1.2"/><rect x="1459.53" y="330.2" width="4.0" height="11.3" fill="#26a69a"/>
<path d="M1467.31 327.0V352.9" stroke="#ef5350" stroke-width="1.2"/><rect x="1465.31" y="330.2" width="4.0" height="9.7" fill="#ef5350"/>
<path d="M1473.09 322.8V352.9" stroke="#26a69a" stroke-width="1.2"/><rect x="1471.09" y="328.6" width="4.0" height="11.3" fill="#26a69a"/>
<path d="M1478.87 327.0V351.3" stroke="#ef5350" stroke-width="1.2"/><rect x="1476.87" y="328.6" width="4.0" height="4.9" fill="#ef5350"/>
<path d="M1484.65 320.5V359.4" stroke="#ef5350" stroke-width="1.2"/><rect x="1482.65" y="331.8" width="4.0" height="8.1" fill="#ef5350"/>
<path d="M1490.43 328.6V349.7" stroke="#ef5350" stroke-width="1.2"/><rect x="1488.43" y="338.3" width="4.0" height="6.5" fill="#ef5350"/>
<path d="M1496.21 302.0V369.1" stroke="#26a69a" stroke-width="1.2"/><rect x="1494.21" y="311.8" width="4.0" height="33.1" fill="#26a69a"/>
<path d="M1501.99 300.1V338.3" stroke="#ef5350" stroke-width="1.2"/><rect x="1499.99" y="311.8" width="4.0" height="25.9" fill="#ef5350"/>
<path d="M1507.77 289.1V338.3" stroke="#26a69a" stroke-width="1.2"/><rect x="1505.77" y="303.3" width="4.0" height="34.3" fill="#26a69a"/>
<path d="M1513.55 297.8V326.7" stroke="#ef5350" stroke-width="1.2"/><rect x="1511.55" y="303.3" width="4.0" height="13.3" fill="#ef5350"/>
<path d="M1519.33 303.3V345.6" stroke="#26a69a" stroke-width="1.2"/><rect x="1517.33" y="311.1" width="4.0" height="5.6" fill="#26a69a"/>
<path d="M1525.11 303.3V326.7" stroke="#26a69a" stroke-width="1.2"/><rect x="1523.11" y="309.3" width="4.0" height="2.9" fill="#26a69a"/>
<path d="M1530.88 302.2V337.8" stroke="#ef5350" stroke-width="1.2"/><rect x="1528.88" y="309.3" width="4.0" height="1.8" fill="#ef5350"/>
<path d="M1536.66 303.3V335.6" stroke="#ef5350" stroke-width="1.2"/><rect x="1534.66" y="310.0" width="4.0" height="18.9" fill="#ef5350"/>
<path d="M1542.44 316.7V343.3" stroke="#26a69a" stroke-width="1.2"/><rect x="1540.44" y="324.4" width="4.0" height="4.4" fill="#26a69a"/>
<path d="M1548.22 305.6V334.4" stroke="#26a69a" stroke-width="1.2"/><rect x="1546.22" y="308.9" width="4.0" height="17.8" fill="#26a69a"/>
<path d="M1554.00 278.9V312.2" stroke="#26a69a" stroke-width="1.2"/><rect x="1552.00" y="295.6" width="4.0" height="15.6" fill="#26a69a"/>
<path d="M1559.78 267.8V305.6" stroke="#26a69a" stroke-width="1.2"/><rect x="1557.78" y="273.3" width="4.0" height="24.4" fill="#26a69a"/>
<path d="M1565.56 241.1V287.8" stroke="#26a69a" stroke-width="1.2"/><rect x="1563.56" y="256.7" width="4.0" height="17.8" fill="#26a69a"/>
<path d="M1571.34 252.9V273.3" stroke="#ef5350" stroke-width="1.2"/><rect x="1569.34" y="256.7" width="4.0" height="8.9" fill="#ef5350"/>
<path d="M1577.12 257.8V282.2" stroke="#ef5350" stroke-width="1.2"/><rect x="1575.12" y="264.4" width="4.0" height="2.2" fill="#ef5350"/>
<path d="M1582.90 236.7V301.1" stroke="#ef5350" stroke-width="1.2"/><rect x="1580.90" y="265.6" width="4.0" height="11.1" fill="#ef5350"/>
<path d="M1588.68 244.4V280.0" stroke="#26a69a" stroke-width="1.2"/><rect x="1586.68" y="256.7" width="4.0" height="20.0" fill="#26a69a"/>
<path d="M1594.46 252.9V272.2" stroke="#ef5350" stroke-width="1.2"/><rect x="1592.46" y="256.7" width="4.0" height="7.8" fill="#ef5350"/>
<path d="M1600.24 252.2V327.8" stroke="#ef5350" stroke-width="1.2"/><rect x="1598.24" y="271.1" width="4.0" height="33.3" fill="#ef5350"/>
<path d="M1606.01 300.0V340.0" stroke="#ef5350" stroke-width="1.2"/><rect x="1604.01" y="303.3" width="4.0" height="25.6" fill="#ef5350"/>
<path d="M1611.79 305.6V333.3" stroke="#26a69a" stroke-width="1.2"/><rect x="1609.79" y="315.6" width="4.0" height="13.3" fill="#26a69a"/>
<path d="M1617.57 308.9V337.8" stroke="#ef5350" stroke-width="1.2"/><rect x="1615.57" y="315.6" width="4.0" height="21.1" fill="#ef5350"/>
<path d="M1623.35 300.0V354.4" stroke="#26a69a" stroke-width="1.2"/><rect x="1621.35" y="314.4" width="4.0" height="22.2" fill="#26a69a"/>
<path d="M1629.13 297.8V317.8" stroke="#26a69a" stroke-width="1.2"/><rect x="1627.13" y="313.3" width="4.0" height="2.2" fill="#26a69a"/>
<path d="M1634.91 288.9V331.1" stroke="#ef5350" stroke-width="1.2"/><rect x="1632.91" y="313.3" width="4.0" height="15.6" fill="#ef5350"/>
<path d="M1640.69 326.7V354.4" stroke="#ef5350" stroke-width="1.2"/><rect x="1638.69" y="326.7" width="4.0" height="11.1" fill="#ef5350"/>
<path d="M1646.47 334.4V364.4" stroke="#ef5350" stroke-width="1.2"/><rect x="1644.47" y="335.6" width="4.0" height="7.8" fill="#ef5350"/>
<path d="M1652.25 332.2V396.7" stroke="#ef5350" stroke-width="1.2"/><rect x="1650.25" y="341.1" width="4.0" height="55.6" fill="#ef5350"/>
<path d="M1658.03 378.9V416.7" stroke="#26a69a" stroke-width="1.2"/><rect x="1656.03" y="385.6" width="4.0" height="11.1" fill="#26a69a"/>
<path d="M1663.81 377.8V394.4" stroke="#ef5350" stroke-width="1.2"/><rect x="1661.81" y="385.6" width="4.0" height="1.4" fill="#ef5350"/>
<path d="M1669.59 370.0V400.0" stroke="#26a69a" stroke-width="1.2"/><rect x="1667.59" y="378.2" width="4.0" height="8.4" fill="#26a69a"/>
<path d="M1675.36 362.2V397.8" stroke="#ef5350" stroke-width="1.2"/><rect x="1673.36" y="378.2" width="4.0" height="8.4" fill="#ef5350"/>
<path d="M1681.14 362.2V388.9" stroke="#26a69a" stroke-width="1.2"/><rect x="1679.14" y="382.2" width="4.0" height="4.4" fill="#26a69a"/>
<path d="M1686.92 353.3V390.0" stroke="#26a69a" stroke-width="1.2"/><rect x="1684.92" y="373.3" width="4.0" height="8.9" fill="#26a69a"/>
<path d="M1692.70 367.8V441.1" stroke="#ef5350" stroke-width="1.2"/><rect x="1690.70" y="373.3" width="4.0" height="66.7" fill="#ef5350"/>
<path d="M1698.48 407.8V446.7" stroke="#26a69a" stroke-width="1.2"/><rect x="1696.48" y="412.2" width="4.0" height="27.8" fill="#26a69a"/>
<path d="M1704.26 383.5V435.8" stroke="#26a69a" stroke-width="1.2"/><rect x="1702.26" y="396.9" width="4.0" height="16.1" fill="#26a69a"/>
<path d="M1710.04 388.9V407.6" stroke="#ef5350" stroke-width="1.2"/><rect x="1708.04" y="396.9" width="4.0" height="4.0" fill="#ef5350"/>
<path d="M1715.82 375.4V402.3" stroke="#26a69a" stroke-width="1.2"/><rect x="1713.82" y="388.9" width="4.0" height="12.1" fill="#26a69a"/>
<path d="M1721.60 339.2V394.2" stroke="#26a69a" stroke-width="1.2"/><rect x="1719.60" y="343.2" width="4.0" height="49.7" fill="#26a69a"/>
<path d="M1727.38 290.8V356.6" stroke="#26a69a" stroke-width="1.2"/><rect x="1725.38" y="290.8" width="4.0" height="53.7" fill="#26a69a"/>
<path d="M1733.16 264.0V294.9" stroke="#26a69a" stroke-width="1.2"/><rect x="1731.16" y="277.4" width="4.0" height="14.8" fill="#26a69a"/>
<path d="M1738.94 239.8V289.5" stroke="#26a69a" stroke-width="1.2"/><rect x="1736.94" y="249.2" width="4.0" height="29.5" fill="#26a69a"/>
<path d="M1744.71 239.8V265.3" stroke="#ef5350" stroke-width="1.2"/><rect x="1742.71" y="249.2" width="4.0" height="6.2" fill="#ef5350"/>
<path d="M1750.49 207.6V255.9" stroke="#26a69a" stroke-width="1.2"/><rect x="1748.49" y="213.0" width="4.0" height="42.4" fill="#26a69a"/>
<path d="M1756.27 201.7V234.4" stroke="#26a69a" stroke-width="1.2"/><rect x="1754.27" y="210.3" width="4.0" height="2.7" fill="#26a69a"/>
<path d="M1762.05 192.0V233.1" stroke="#26a69a" stroke-width="1.2"/><rect x="1760.05" y="194.2" width="4.0" height="17.5" fill="#26a69a"/>
<path d="M1767.83 178.6V202.2" stroke="#ef5350" stroke-width="1.2"/><rect x="1765.83" y="194.2" width="4.0" height="6.7" fill="#ef5350"/>
<path d="M1773.61 178.6V214.3" stroke="#26a69a" stroke-width="1.2"/><rect x="1771.61" y="207.6" width="4.0" height="5.4" fill="#26a69a"/>
<path d="M1779.39 198.2V218.3" stroke="#ef5350" stroke-width="1.2"/><rect x="1777.39" y="207.6" width="4.0" height="6.7" fill="#ef5350"/>
<path d="M1785.17 204.9V225.0" stroke="#26a69a" stroke-width="1.2"/><rect x="1783.17" y="208.9" width="4.0" height="4.0" fill="#26a69a"/>
<path d="M1790.95 184.8V219.7" stroke="#26a69a" stroke-width="1.2"/><rect x="1788.95" y="195.5" width="4.0" height="13.4" fill="#26a69a"/>
<path d="M1796.73 186.6V208.9" stroke="#ef5350" stroke-width="1.2"/><rect x="1794.73" y="195.5" width="4.0" height="12.1" fill="#ef5350"/>
<path d="M1802.51 190.1V207.6" stroke="#26a69a" stroke-width="1.2"/><rect x="1800.51" y="191.5" width="4.0" height="16.1" fill="#26a69a"/>
<path d="M1808.29 190.1V215.6" stroke="#ef5350" stroke-width="1.2"/><rect x="1806.29" y="191.5" width="4.0" height="14.8" fill="#ef5350"/>
<path d="M1814.07 199.5V225.0" stroke="#ef5350" stroke-width="1.2"/><rect x="1812.07" y="206.3" width="4.0" height="3.5" fill="#ef5350"/>
<path d="M1819.84 207.6V233.1" stroke="#ef5350" stroke-width="1.2"/><rect x="1817.84" y="208.9" width="4.0" height="4.0" fill="#ef5350"/>
<path d="M1825.62 192.0V234.4" stroke="#26a69a" stroke-width="1.2"/><rect x="1823.62" y="203.6" width="4.0" height="9.4" fill="#26a69a"/>
<path d="M1831.40 195.5V222.4" stroke="#26a69a" stroke-width="1.2"/><rect x="1829.40" y="199.5" width="4.0" height="4.0" fill="#26a69a"/>
<path d="M1270.5 691L1720.6 222.9M1699.8 219.8L1720.6 222.9L1719 247.9" stroke="#12e812" stroke-width="3.6" fill="none" stroke-linecap="round" stroke-linejoin="round"/>
<text x="703.70" y="658.30" font-family="Liberation Sans, sans-serif" font-size="27.20" font-weight="normal" fill="#111111" textLength="239.43" lengthAdjust="spacingAndGlyphs" stroke="#111111" stroke-width="0.75">A deep Crab pattern</text>
<g transform="translate(800 670) scale(0.17592592592592593)"><path fill-rule="evenodd" fill="#8bd3f4" d="M525 78L922 305L922 760L525 990L128 760L128 305Z M525 155L850 345L850 720L525 910L200 720L200 345Z"/><polygon fill="#76b5e2" points="245,515 525,355 570,378 630,345 680,370 740,335 805,372 527,530 245,560"/><polygon fill="#6598c2" points="527,530 805,372 805,695 527,852"/><polygon fill="#6598c2" points="310,548 352,524 352,754 310,731"/><polygon fill="#6598c2" points="418,538 460,514 460,814 418,791"/><polygon fill="#8fd7f6" points="245,515 310,548 310,731 245,695"/><polygon fill="#8fd7f6" points="352,505 418,538 418,791 352,754"/><polygon fill="#8fd7f6" points="460,497 527,530 527,852 460,814"/></g>
<g fill="none" stroke="#8bd3f4" stroke-width="6.6" stroke-linejoin="miter"><path d="M734.3 885.2V859.3H754.2A3.5 3.5 0 0 1 757.7 862.8V872.6A3.5 3.5 0 0 1 754.2 876.1H734.3"/><path d="M768.6 885.2V859.3H788.7A3.5 3.5 0 0 1 792.2 862.8V872.6A3.5 3.5 0 0 1 788.7 876.1H768.6"/><polygon points="777.3,873 786.8,873 796.7,885.2 787.2,885.2" stroke="none" fill="#8bd3f4"/><rect x="802.7" y="859.3" width="22.6" height="22.6" rx="5.5"/><path d="M844.1 859.3H873.4M858.5 859.3V885.2"/><path d="M881.2 885.2V859.3H901.3A3.5 3.5 0 0 1 904.8 862.8V872.6A3.5 3.5 0 0 1 901.3 876.1H881.2"/><polygon points="889.9,873 899.4,873 909.3,885.2 899.8,885.2" stroke="none" fill="#8bd3f4"/><path stroke="none" fill="#8bd3f4" fill-rule="evenodd" d="M909.1 885.2L926.6 854L944 885.2H936.3L933.6 879.7H919.6L916.8 885.2Z M926.6 866.3L922.5 874.7H930.9Z"/><path d="M949.5 885.2V859.3H963.6A8 8 0 0 1 971.6 867.3V873.9A8 8 0 0 1 963.6 881.9H949.4Z" stroke-linejoin="miter"/><path d="M983.1 856.0V885.2"/><path d="M993.4 885.2V856.0M1015.8 856.0V885.2"/><polygon stroke="none" fill="#8bd3f4" points="990.2,856.0 998,856.0 1019,885.2 1011.2,885.2"/><path d="M1054.1 859.3H1032.2Q1027.2 859.3 1027.2 864.3V876.9Q1027.2 881.9 1032.2 881.9H1050.8V871.75H1036.8"/></g>
<g fill="none" stroke="#4a4a4a" stroke-width="2.4" stroke-linejoin="round"><path d="M807.9 896.8H798Q796.1 896.8 796.1 898.7V900.3Q796.1 902.2 798 902.2H805.2Q807.1 902.2 807.1 904.1V905.7Q807.1 907.6 805.2 907.6H794.9"/><path d="M844.1 896.8H834.3Q832.3 896.8 832.3 898.8V905.6Q832.3 907.6 834.3 907.6H844.1"/><path d="M869.1 895.6V908.8M879.9 895.6V908.8M869.1 902.2H879.9"/><rect x="905.1" y="896.8" width="10.8" height="10.8" rx="2.3"/><rect x="941.6" y="896.8" width="10.8" height="10.8" rx="2.3"/><path d="M978.2 895.6V907.6H989.9"/></g>
<ellipse cx="45.7" cy="910.7" rx="24.4" ry="29.8" fill="#fff" stroke="#e3e3e6" stroke-width="1.5"/><g transform="translate(29.9 897.5) scale(0.8299492385786803 0.8992805755395683)"><g fill="#2196f3"><circle cx="8" cy="19.8" r="8"/><circle cx="16.7" cy="9.5" r="9.5"/><circle cx="29" cy="15.3" r="7.5"/><circle cx="31.6" cy="20.3" r="7.5"/><rect x="8" y="12" width="24" height="15.8"/></g><path d="M2.2 24.4L14.8 11.5L24.4 22.2L35.5 7.8" stroke="#fff" stroke-width="1.8" fill="none"/><ellipse cx="14.8" cy="10.3" rx="2.6" ry="3.1" fill="#fff"/><ellipse cx="24.4" cy="22.6" rx="2.5" ry="3.3" fill="#fff"/></g>
<text x="22.55" y="123.10" font-family="Liberation Sans, sans-serif" font-size="24.40" font-weight="normal" fill="#4b4e58" textLength="329.28" lengthAdjust="spacingAndGlyphs" stroke="#4b4e58" stroke-width="0.35">U.S. Dollar / Japanese Yen, 4h, FXCM</text>
<g stroke="#4a4b52" fill="none"><path d="M9 82.5H1920" stroke-width="2"/><path d="M9.7 82V1011.5" stroke-width="2"/><path d="M9 955.6H1920" stroke-width="2.4"/><path d="M9 1010.6H1920" stroke-width="2"/><path d="M1836.9 82V1011.5" stroke-width="2"/></g>
<path d="M1837 93.9H1843.6" stroke="#4a4b52" stroke-width="2"/><path d="M1837 200.2H1843.6" stroke="#4a4b52" stroke-width="2"/><path d="M1837 306.5H1843.6" stroke="#4a4b52" stroke-width="2"/><path d="M1837 412.8H1843.6" stroke="#4a4b52" stroke-width="2"/><path d="M1837 519.1H1843.6" stroke="#4a4b52" stroke-width="2"/><path d="M1837 625.4H1843.6" stroke="#4a4b52" stroke-width="2"/><path d="M1837 731.7H1843.6" stroke="#4a4b52" stroke-width="2"/><path d="M1837 838.0H1843.6" stroke="#4a4b52" stroke-width="2"/><path d="M1837 944.3H1843.6" stroke="#4a4b52" stroke-width="2"/><path d="M219.9 956V962.3" stroke="#4a4b52" stroke-width="1.8"/><path d="M393.2 956V962.3" stroke="#4a4b52" stroke-width="1.8"/><path d="M566.5 956V962.3" stroke="#4a4b52" stroke-width="1.8"/><path d="M705.2 956V962.3" stroke="#4a4b52" stroke-width="1.8"/><path d="M912.0 956V962.3" stroke="#4a4b52" stroke-width="1.8"/><path d="M1085.5 956V962.3" stroke="#4a4b52" stroke-width="1.8"/><path d="M1258.9 956V962.3" stroke="#4a4b52" stroke-width="1.8"/><path d="M1432.3 956V962.3" stroke="#4a4b52" stroke-width="1.8"/><path d="M1605.6 956V962.3" stroke="#4a4b52" stroke-width="1.8"/><path d="M1779.0 956V962.3" stroke="#4a4b52" stroke-width="1.8"/>
<text x="1849.44" y="102.50" font-family="Liberation Sans, sans-serif" font-size="24.00" font-weight="normal" fill="#4e5058" textLength="64.70" lengthAdjust="spacingAndGlyphs" >112.500</text><text x="1849.41" y="315.10" font-family="Liberation Sans, sans-serif" font-size="24.00" font-weight="normal" fill="#4e5058" textLength="64.67" lengthAdjust="spacingAndGlyphs" >111.500</text><text x="1849.41" y="421.40" font-family="Liberation Sans, sans-serif" font-size="24.00" font-weight="normal" fill="#4e5058" textLength="64.67" lengthAdjust="spacingAndGlyphs" >111.000</text><text x="1849.44" y="527.70" font-family="Liberation Sans, sans-serif" font-size="24.00" font-weight="normal" fill="#4e5058" textLength="64.70" lengthAdjust="spacingAndGlyphs" >110.500</text><text x="1849.44" y="634.00" font-family="Liberation Sans, sans-serif" font-size="24.00" font-weight="normal" fill="#4e5058" textLength="64.70" lengthAdjust="spacingAndGlyphs" >110.000</text><text x="1849.47" y="740.30" font-family="Liberation Sans, sans-serif" font-size="24.00" font-weight="normal" fill="#4e5058" textLength="64.74" lengthAdjust="spacingAndGlyphs" >109.500</text><text x="1849.47" y="846.60" font-family="Liberation Sans, sans-serif" font-size="24.00" font-weight="normal" fill="#4e5058" textLength="64.74" lengthAdjust="spacingAndGlyphs" >109.000</text><text x="1849.47" y="952.90" font-family="Liberation Sans, sans-serif" font-size="24.00" font-weight="normal" fill="#4e5058" textLength="64.74" lengthAdjust="spacingAndGlyphs" >108.500</text>
<rect x="1836" y="184.2" width="84" height="35.1" fill="#ef5350"/><path d="M1836 202.5H1841.7" stroke="#fff" stroke-width="1.8"/><text x="1849.80" y="210.60" font-family="Liberation Sans, sans-serif" font-size="24.29" font-weight="bold" fill="#ffffff" textLength="64.15" lengthAdjust="spacingAndGlyphs" >111.995</text>
<text x="208.46" y="992.50" font-family="Liberation Sans, sans-serif" font-size="24.64" font-weight="normal" fill="#4e5058" textLength="17.34" lengthAdjust="spacingAndGlyphs" >11</text><text x="381.60" y="992.50" font-family="Liberation Sans, sans-serif" font-size="24.29" font-weight="normal" fill="#4e5058" textLength="19.44" lengthAdjust="spacingAndGlyphs" >18</text><text x="555.44" y="992.50" font-family="Liberation Sans, sans-serif" font-size="24.29" font-weight="normal" fill="#4e5058" textLength="19.08" lengthAdjust="spacingAndGlyphs" >25</text><text x="902.25" y="992.50" font-family="Liberation Sans, sans-serif" font-size="24.64" font-weight="normal" fill="#4e5058" textLength="17.57" lengthAdjust="spacingAndGlyphs" >11</text><text x="1073.90" y="992.50" font-family="Liberation Sans, sans-serif" font-size="24.29" font-weight="normal" fill="#4e5058" textLength="19.44" lengthAdjust="spacingAndGlyphs" >18</text><text x="1248.04" y="992.50" font-family="Liberation Sans, sans-serif" font-size="24.29" font-weight="normal" fill="#4e5058" textLength="19.08" lengthAdjust="spacingAndGlyphs" >25</text><text x="1600.56" y="992.50" font-family="Liberation Sans, sans-serif" font-size="24.29" font-weight="normal" fill="#4e5058" textLength="10.30" lengthAdjust="spacingAndGlyphs" >8</text><text x="1768.17" y="992.50" font-family="Liberation Sans, sans-serif" font-size="24.64" font-weight="normal" fill="#4e5058" textLength="19.89" lengthAdjust="spacingAndGlyphs" >15</text><text x="687.48" y="992.60" font-family="Liberation Sans, sans-serif" font-size="24.49" font-weight="bold" fill="#4e5058" textLength="32.15" lengthAdjust="spacingAndGlyphs" >Mar</text><text x="1416.66" y="992.60" font-family="Liberation Sans, sans-serif" font-size="24.49" font-weight="bold" fill="#4e5058" textLength="31.06" lengthAdjust="spacingAndGlyphs" >Apr</text><text x="9.59" y="992.50" font-family="Liberation Sans, sans-serif" font-size="24.00" font-weight="normal" fill="#4e5058" textLength="17.06" lengthAdjust="spacingAndGlyphs" >eb</text>
<text x="8.94" y="32.00" font-family="Liberation Sans, sans-serif" font-size="24.00" font-weight="bold" fill="#131722" textLength="86.04" lengthAdjust="spacingAndGlyphs" >Donwealt</text><text x="100.58" y="32.00" font-family="Liberation Sans, sans-serif" font-size="24.00" font-weight="normal" fill="#131722" textLength="509.96" lengthAdjust="spacingAndGlyphs" >published on TradingView.com, June 20, 2020 13:46:49 UTC</text><text x="8.94" y="64.40" font-family="Liberation Sans, sans-serif" font-size="24.00" font-weight="bold" fill="#131722" textLength="138.57" lengthAdjust="spacingAndGlyphs" >FX:USDJPY, 240</text><text x="154.96" y="64.40" font-family="Liberation Sans, sans-serif" font-size="24.00" font-weight="normal" fill="#131722" textLength="69.50" lengthAdjust="spacingAndGlyphs" >106.845</text><text x="250.66" y="64.40" font-family="Liberation Sans, sans-serif" font-size="24.00" font-weight="normal" fill="#131722" textLength="140.07" lengthAdjust="spacingAndGlyphs" >−0.124 (−0.12%)</text><text x="396.99" y="64.40" font-family="Liberation Sans, sans-serif" font-size="24.00" font-weight="bold" fill="#131722" textLength="19.81" lengthAdjust="spacingAndGlyphs" >O:</text><text x="418.15" y="64.40" font-family="Liberation Sans, sans-serif" font-size="24.00" font-weight="normal" fill="#ef5350" textLength="70.02" lengthAdjust="spacingAndGlyphs" >106.844</text><text x="494.29" y="64.40" font-family="Liberation Sans, sans-serif" font-size="24.00" font-weight="bold" fill="#131722" textLength="19.80" lengthAdjust="spacingAndGlyphs" >H:</text><text x="514.93" y="64.40" font-family="Liberation Sans, sans-serif" font-size="24.00" font-weight="normal" fill="#ef5350" textLength="71.16" lengthAdjust="spacingAndGlyphs" >106.899</text><text x="591.29" y="64.40" font-family="Liberation Sans, sans-serif" font-size="24.00" font-weight="bold" fill="#131722" textLength="16.34" lengthAdjust="spacingAndGlyphs" >L:</text><text x="607.63" y="64.40" font-family="Liberation Sans, sans-serif" font-size="24.00" font-weight="normal" fill="#ef5350" textLength="70.95" lengthAdjust="spacingAndGlyphs" >106.794</text><text x="684.52" y="64.40" font-family="Liberation Sans, sans-serif" font-size="24.00" font-weight="bold" fill="#131722" textLength="17.89" lengthAdjust="spacingAndGlyphs" >C:</text><text x="703.06" y="64.40" font-family="Liberation Sans, sans-serif" font-size="24.00" font-weight="normal" fill="#ef5350" textLength="69.50" lengthAdjust="spacingAndGlyphs" >106.845</text><polygon points="229.6,47.8 244.9,47.8 237.2,65.4" fill="#ef5350"/>
<g transform="translate(9.1 1030.9) scale(1.0 1.0)"><g fill="#2196f3"><circle cx="8" cy="19.8" r="8"/><circle cx="16.7" cy="9.5" r="9.5"/><circle cx="29" cy="15.3" r="7.5"/><circle cx="31.6" cy="20.3" r="7.5"/><rect x="8" y="12" width="24" height="15.8"/></g><path d="M2.2 24.4L14.8 11.5L24.4 22.2L35.5 7.8" stroke="#fff" stroke-width="1.8" fill="none"/><ellipse cx="14.8" cy="10.3" rx="2.6" ry="3.1" fill="#fff"/><ellipse cx="24.4" cy="22.6" rx="2.5" ry="3.3" fill="#fff"/></g><text x="51.21" y="1053.40" font-family="Liberation Sans, sans-serif" font-size="24.90" font-weight="normal" fill="#131722" textLength="108.25" lengthAdjust="spacingAndGlyphs" >TradingView</text>
</svg>
</body></html>
